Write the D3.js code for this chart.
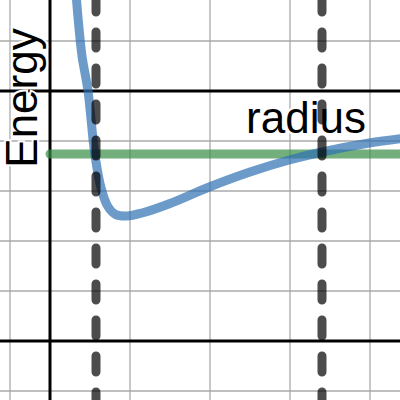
<!DOCTYPE html>
<html><head><script src="https://cdn.jsdelivr.net/npm/d3@7"></script>
<style>body{margin:0}svg{display:block}</style></head><body>
<svg id="c" width="400" height="400"></svg>
<script>
const gridX=[-0.5,1,2,3,4];
const gridY=[1,-1,-2,-3,-4,-6];
const axisX=[0];
const axisY=[0,-5];
const curveX=[0.33,0.36,0.40,0.475,0.56,0.64,0.72,0.82,0.96,1.15,1.5,1.99,2.5,2.99,3.4,3.99,4.4];
const curveY=[1.85,1.3,0.7,0,-1.26,-1.95,-2.3,-2.47,-2.5,-2.44,-2.25,-1.92,-1.62,-1.38,-1.22,-1.04,-0.95];
const dashedX=[0.575,3.4];
const greenY=-1.26;
const svg=d3.select("#c");
const x=d3.scaleLinear().domain([0,1]).range([50,130]);
const y=d3.scaleLinear().domain([0,-1]).range([91,141]);
svg.append("rect").attr("width",400).attr("height",400).attr("fill","#fff");
const g=svg.append("g");
gridX.forEach(v=>g.append("line").attr("x1",x(v)).attr("x2",x(v)).attr("y1",0).attr("y2",400).attr("stroke","#aaa").attr("stroke-width",1.3));
gridY.forEach(v=>g.append("line").attr("y1",y(v)).attr("y2",y(v)).attr("x1",0).attr("x2",400).attr("stroke","#aaa").attr("stroke-width",1.3));
axisX.forEach(v=>g.append("line").attr("x1",x(v)).attr("x2",x(v)).attr("y1",0).attr("y2",400).attr("stroke","#000").attr("stroke-width",3));
axisY.forEach(v=>g.append("line").attr("y1",y(v)).attr("y2",y(v)).attr("x1",0).attr("x2",400).attr("stroke","#000").attr("stroke-width",3));
svg.append("text").attr("transform",`translate(37,98) rotate(-90)`).attr("text-anchor","middle")
 .attr("font-family","Liberation Sans, Arial").attr("font-size",44).attr("fill","#000")
 .attr("stroke","#fff").attr("stroke-width",4).attr("paint-order","stroke").text("Energy");
svg.append("text").attr("x",306).attr("y",133).attr("text-anchor","middle")
 .attr("font-family","Liberation Sans, Arial").attr("font-size",44).attr("fill","#000")
 .attr("stroke","#fff").attr("stroke-width",4).attr("paint-order","stroke").text("radius");
svg.append("line").attr("x1",x(0)).attr("x2",400).attr("y1",y(greenY)).attr("y2",y(greenY))
 .attr("stroke","#388c46").attr("stroke-opacity",0.7).attr("stroke-width",9).attr("stroke-linecap","round");
const pts=curveX.map((v,i)=>[v,curveY[i]]);
svg.append("path").attr("d",d3.line().x(d=>x(d[0])).y(d=>y(d[1])).curve(d3.curveCatmullRom)(pts))
 .attr("fill","none").attr("stroke","#2d70b3").attr("stroke-opacity",0.7).attr("stroke-width",9);
dashedX.forEach(v=>svg.append("line").attr("x1",x(v)).attr("x2",x(v)).attr("y1",-4).attr("y2",404)
 .attr("stroke","#000").attr("stroke-opacity",0.7).attr("stroke-width",9).attr("stroke-dasharray","16 20").attr("stroke-linecap","round"));
</script></body></html>
